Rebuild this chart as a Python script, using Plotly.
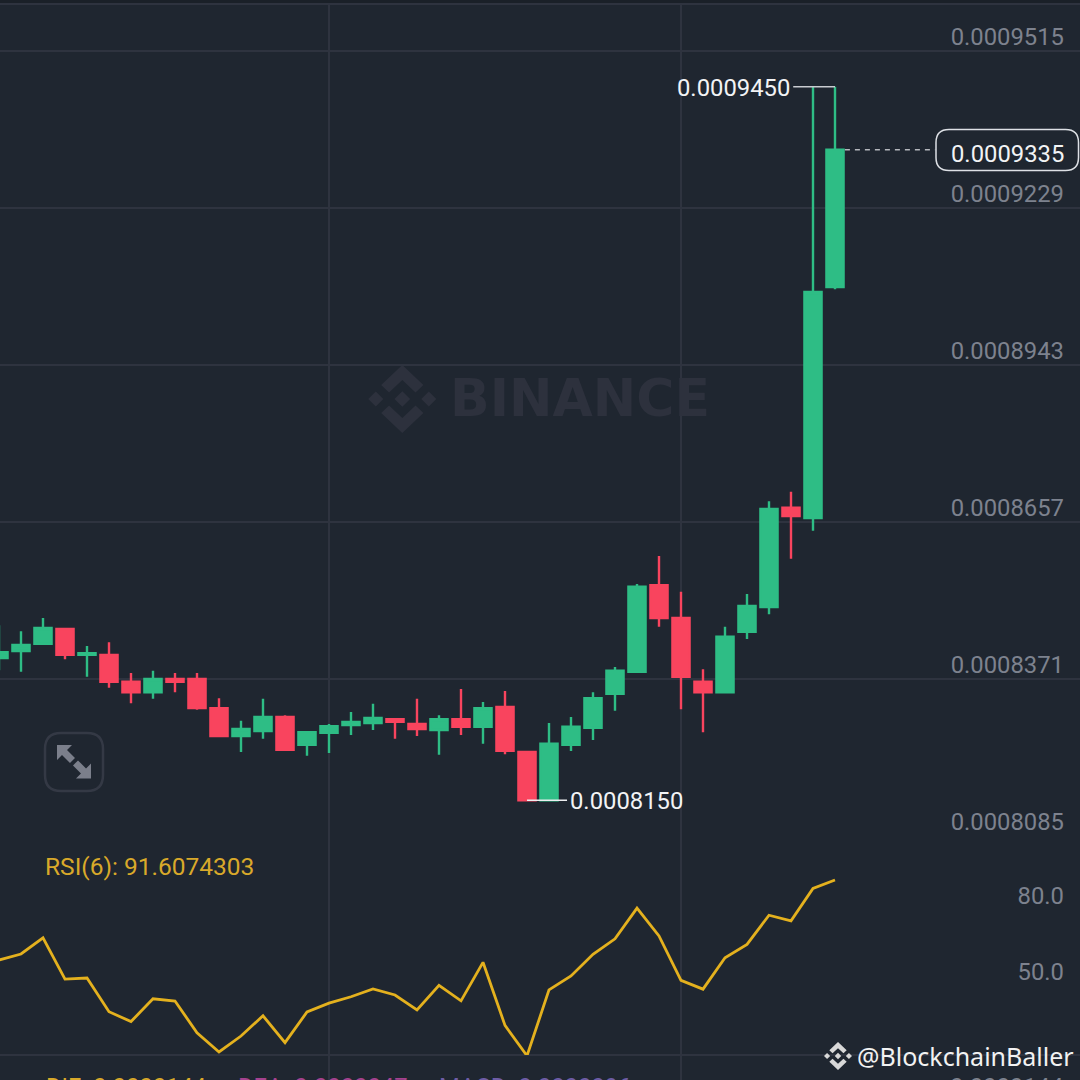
import plotly.graph_objects as go

SIZE = 1080
BG = "#1F2630"
GRID = "#2E333F"
WATERMARK = "#2D313D"
GREEN = "#2EBD85"
RED = "#F9445E"
TICK = "#7D828E"
GOLD = "#E4B11E"

index = list(range(39))
opens = [8409, 8422, 8435, 8462, 8415, 8415, 8366, 8347, 8371, 8371, 8318, 8267, 8276,
         8302, 8251, 8273, 8287, 8291, 8298, 8289, 8278, 8298, 8284, 8320, 8238, 8150,
         8251, 8282, 8344, 8384, 8542, 8482, 8366, 8347, 8457, 8502, 8683, 8664, 9085]
highs = [8469, 8458, 8482, 8462, 8431, 8438, 8382, 8386, 8382, 8382, 8336, 8295, 8335,
         8305, 8274, 8289, 8311, 8326, 8300, 8335, 8305, 8353, 8329, 8349, 8238, 8291,
         8302, 8347, 8393, 8544, 8595, 8530, 8389, 8466, 8526, 8695, 8712, 9450, 9450]
lows = [8387, 8384, 8435, 8407, 8375, 8355, 8327, 8335, 8347, 8315, 8267, 8238, 8262,
        8240, 8231, 8236, 8269, 8278, 8262, 8267, 8233, 8269, 8253, 8234, 8150, 8150,
        8240, 8260, 8313, 8382, 8466, 8316, 8274, 8347, 8444, 8489, 8590, 8641, 9081]
closes = [8420, 8433, 8464, 8415, 8418, 8366, 8347, 8371, 8366, 8318, 8267, 8280, 8302,
          8242, 8274, 8285, 8293, 8300, 8293, 8280, 8298, 8284, 8318, 8240, 8150, 8253,
          8284, 8336, 8386, 8539, 8482, 8375, 8347, 8448, 8504, 8681, 8668, 9076, 9335]
rsi = [60.0, 62.4, 68.8, 52.5, 52.9, 39.6, 35.7, 44.7, 43.8, 31.3, 23.7, 30.0, 38.0,
       27.4, 39.5, 43.0, 45.5, 48.6, 46.2, 40.3, 50.0, 43.9, 59.1, 34.2, 22.2, 48.2,
       53.7, 62.3, 68.4, 80.5, 69.5, 52.0, 48.5, 60.9, 66.2, 77.7, 75.5, 88.3, 91.6]

PRICE_UNIT = 1e-7
price_ticks = [0.0009515, 0.0009229, 0.0008943, 0.0008657, 0.0008371, 0.0008085]
rsi_ticks = [80, 50]
time_grid = [15, 31]
HIGH_PRICE = 0.0009450
LOW_PRICE = 0.0008150
LAST_PRICE = 0.0009335
HIGH_INDEX = 38
LOW_INDEX = 24
LAST_INDEX = 38


def scale(values):
    return [v * PRICE_UNIT for v in values]


def px(x):
    return x / SIZE


def py(y):
    return 1 - y / SIZE


def poly(points):
    return "M " + " L ".join(f"{px(x):.5f},{py(y):.5f}" for x, y in points) + " Z"


def logo(cx, cy, r):
    """The Binance mark, as one closed path per piece, in figure pixels."""
    def rel(pts):
        return [(cx + a * r, cy + b * r) for a, b in pts]

    def diamond(a, b, h):
        return [(a, b - h), (a + h, b), (a, b + h), (a - h, b)]

    up = [(0, -1), (.62, -.41), (.39, -.19), (0, -.56), (-.39, -.19), (-.62, -.41)]
    down = [(a, -b) for a, b in up]
    parts = [up, down, diamond(0, 0, .23), diamond(.78, 0, .22), diamond(-.78, 0, .22)]
    return " ".join(poly(rel(p)) for p in parts)


def rounded(x0, y0, x1, y1, r):
    X0, X1, Y0, Y1 = px(x0), px(x1), py(y0), py(y1)
    rx, ry = px(r), r / SIZE
    return (f"M {X0 + rx},{Y0} L {X1 - rx},{Y0} Q {X1},{Y0} {X1},{Y0 - ry} "
            f"L {X1},{Y1 + ry} Q {X1},{Y1} {X1 - rx},{Y1} L {X0 + rx},{Y1} "
            f"Q {X0},{Y1} {X0},{Y1 + ry} L {X0},{Y0 - ry} Q {X0},{Y0} {X0 + rx},{Y0} Z")


def paper_shape(path, fill=None, line=None, width=0, layer="below"):
    return dict(type="path", xref="paper", yref="paper", path=path, layer=layer,
                fillcolor=fill or "rgba(0,0,0,0)",
                line=dict(color=line or "rgba(0,0,0,0)", width=width))


arrow = [(57, 745), (72, 745), (67, 750), (75, 758), (70, 763), (62, 755), (57, 760)]
arrow2 = [(148 - x, 1523.4 - y) for x, y in arrow]

shapes = [
    dict(type="rect", xref="paper", yref="paper", x0=0, x1=1, y0=py(3), y1=1,
         fillcolor="#1A2028", line_width=0, layer="below"),
    dict(type="line", xref="paper", yref="paper", x0=0, x1=1, y0=py(4), y1=py(4),
         line=dict(color=GRID, width=2), layer="below"),
    dict(type="line", xref="paper", yref="paper", x0=0, x1=1, y0=py(1055), y1=py(1055),
         line=dict(color=GRID, width=2), layer="below"),
    paper_shape(logo(402.3, 399, 34), fill=WATERMARK),
    paper_shape(rounded(45, 733, 103, 791, 16), line="#343945", width=2.5),
    paper_shape(poly(arrow), fill="#7B7F8B"),
    paper_shape(poly(arrow2), fill="#7B7F8B"),
    paper_shape(rounded(936, 129.5, 1078.5, 170.5, 13), fill=BG, line="#DDE0E5", width=1.5, layer="above"),
    paper_shape(logo(838, 1056, 14), fill="#D8D8D8", layer="above"),
    dict(type="line", xref="x", yref="y", x0=36.1, x1=HIGH_INDEX, y0=HIGH_PRICE, y1=HIGH_PRICE,
         line=dict(color="#C9CCD1", width=1.5), layer="above"),
    dict(type="line", xref="x", yref="y", x0=LOW_INDEX, x1=25.82, y0=LOW_PRICE, y1=LOW_PRICE,
         line=dict(color="#EDEEF0", width=1.5), layer="above"),
    dict(type="line", xref="x", yref="y", x0=LAST_INDEX + .45, x1=42.6, y0=LAST_PRICE, y1=LAST_PRICE,
         line=dict(color="#B5B8BE", width=1.5, dash="5px,5px"), layer="above"),
]
for t in time_grid:
    shapes.append(dict(type="line", xref="x", yref="paper", x0=t, x1=t, y0=0, y1=py(4),
                       line=dict(color=GRID, width=2), layer="below"))

FONT = "Roboto"
TEXT_SIZE = 23.8


def label(x, y, text, color, size=TEXT_SIZE, anchor="left", family=FONT, weight="normal"):
    return dict(xref="paper", yref="paper", x=px(x), y=py(y), text=text, showarrow=False,
                xanchor=anchor, yanchor="middle", borderpad=0,
                font=dict(family=family, size=size, color=color, weight=weight))


annotations = [
    label(449, 398, "BINANCE", WATERMARK, size=52, family="DejaVu Sans", weight="bold"),
    label(44, 866, "RSI(6): 91.6074303", "#D9A92A", size=24.5),
    label(45, 1087, "DIF: 0.0000144", "#D9A92A"),
    label(237, 1087, "DEA: 0.0000047", "#A5428F"),
    label(438, 1087, "MACD: 0.0000096", "#6E5DA6"),
    label(1064, 1087, "0.0000144", TICK, anchor="right"),
    label(1007.5, 154, f"{LAST_PRICE:.7f}", "#F2F3F5", anchor="center"),
    label(791, 88, f"{HIGH_PRICE:.7f}", "#F2F3F5", anchor="right"),
    label(569, 801, f"{LOW_PRICE:.7f}", "#F2F3F5"),
    label(856, 1056, "@BlockchainBaller", "#F2F2F2", size=25, family="Noto Sans"),
]

fig = go.Figure()
fig.add_trace(go.Candlestick(
    x=index, open=scale(opens), high=scale(highs), low=scale(lows), close=scale(closes),
    xaxis="x", yaxis="y", whiskerwidth=0, showlegend=False,
    increasing=dict(line=dict(color=GREEN, width=2.4), fillcolor=GREEN),
    decreasing=dict(line=dict(color=RED, width=2.4), fillcolor=RED),
))
fig.add_trace(go.Scatter(
    x=index, y=rsi, mode="lines", xaxis="x", yaxis="y2", showlegend=False,
    line=dict(color=GOLD, width=2.8), cliponaxis=False,
))

axis_common = dict(
    side="right", anchor="x", ticks="", showline=False, zeroline=False,
    ticklabelposition="inside", ticklabelstandoff=13, ticklabelshift=-14,
    tickfont=dict(family=FONT, size=TEXT_SIZE, color=TICK),
)
fig.update_layout(
    width=SIZE, height=SIZE, autosize=False,
    margin=dict(l=0, r=0, t=0, b=0, pad=0),
    paper_bgcolor=BG, plot_bgcolor=BG,
    boxgap=0.22, boxgroupgap=0,
    xaxis=dict(domain=[0, 1], range=[1 / 22, 1081 / 22], showgrid=False, zeroline=False,
               showticklabels=False, ticks="", rangeslider=dict(visible=False),
               anchor="y2", fixedrange=True),
    yaxis=dict(domain=[py(837), py(4)],
               range=[0.00080832, 0.00096006],
               tickmode="array", tickvals=price_ticks, tickformat=".7f",
               showgrid=True, gridcolor=GRID, gridwidth=2, fixedrange=True, **axis_common),
    yaxis2=dict(domain=[py(1055), py(837)], range=[22.5, 108.6],
                tickmode="array", tickvals=rsi_ticks, tickformat=".1f",
                showgrid=False, fixedrange=True, **axis_common),
    shapes=shapes, annotations=annotations,
)
fig.write_html(
    "out.html",
    config=dict(displayModeBar=False),
    post_script="document.body.style.margin='0';document.body.style.overflow='hidden';"
                "document.body.style.background='" + BG + "';",
)
